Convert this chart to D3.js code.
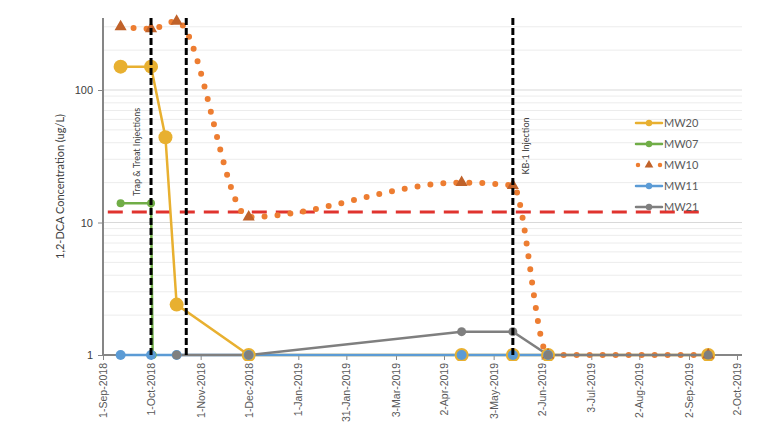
<!DOCTYPE html>
<html>
<head>
<meta charset="utf-8">
<script src="https://cdn.jsdelivr.net/npm/d3@7"></script>
<style>
  body { margin: 0; background: #fff; }
  svg { display: block; font-family: Lato, "Open Sans", sans-serif; }
</style>
</head>
<body>
<div id="chart"></div>
<script>
const parse = d3.timeParse("%Y-%m-%d");

// sampling data (ug/L)
const mw20Dates = ["2018-09-12", "2018-10-01", "2018-10-10", "2018-10-17", "2018-12-01", "2019-04-13", "2019-05-15", "2019-06-06", "2019-09-14"];
const mw20Values = [150, 150, 44, 2.4, 1, 1, 1, 1, 1];
const mw07Dates = ["2018-09-12", "2018-10-01", "2018-10-02"];
const mw07Values = [14, 14, 1];
const mw10Dates = ["2018-09-12", "2018-10-01", "2018-10-17", "2018-12-01", "2019-04-13", "2019-05-15", "2019-06-06", "2019-09-14"];
const mw10Values = [300, 290, 330, 11, 20, 19, 1, 1];
const mw11Dates = ["2018-09-12", "2018-10-01", "2018-10-17", "2018-12-01", "2019-04-13", "2019-05-15", "2019-06-06"];
const mw11Values = [1, 1, 1, 1, 1, 1, 1];
const mw21Dates = ["2018-10-17", "2018-12-01", "2019-04-13", "2019-05-15", "2019-06-06", "2019-09-14"];
const mw21Values = [1, 1, 1.5, 1.5, 1, 1];

// screening level (red dashed)
const limitDates = ["2018-09-04", "2019-09-12"];
const limitValue = 12;

// injection events (black dashed)
const eventDates = ["2018-10-01", "2018-10-23", "2019-05-15"];
const eventLabels = [
  { date: "2018-09-22", text: "Trap & Treat Injections" },
  { date: "2019-05-23", text: "KB-1 Injection" }
];

const xTickLabels = ["1-Sep-2018", "1-Oct-2018", "1-Nov-2018", "1-Dec-2018", "1-Jan-2019", "31-Jan-2019", "3-Mar-2019", "2-Apr-2019", "3-May-2019", "2-Jun-2019", "3-Jul-2019", "2-Aug-2019", "2-Sep-2019", "2-Oct-2019"];
const yTicks = [1, 10, 100];

const seriesNames = ["MW20", "MW07", "MW10", "MW11", "MW21"];
const seriesColors = ["#E8B030", "#70AD47", "#ED7D31", "#5B9BD5", "#7F7F7F"];

const toPoints = (dates, values) => dates.map((d, i) => ({ date: parse(d), value: values[i] }));
const series = [
  { name: "MW20", pts: toPoints(mw20Dates, mw20Values), marker: "circle", r: 7 },
  { name: "MW07", pts: toPoints(mw07Dates, mw07Values), marker: "circle", r: 4 },
  { name: "MW10", pts: toPoints(mw10Dates, mw10Values), marker: "triangle", r: 7, dotted: true },
  { name: "MW11", pts: toPoints(mw11Dates, mw11Values), marker: "circle", r: 5 },
  { name: "MW21", pts: toPoints(mw21Dates, mw21Values), marker: "circle", r: 4.5 }
];
const color = d3.scaleOrdinal().domain(seriesNames).range(seriesColors);

const width = 766, height = 442;
const plotLeft = 103, plotRight = 742, plotTop = 18, plotBottom = 355;

const x = d3.scaleTime()
  .domain([parse("2018-09-01"), parse("2019-10-02")])
  .range([plotLeft, 737]);
const y = d3.scaleLog()
  .domain([1, 1000])
  .range([plotBottom, plotBottom - 3 * 132.5]);

const svg = d3.select("#chart").append("svg")
  .attr("width", width).attr("height", height);

svg.append("clipPath").attr("id", "plot-clip")
  .append("rect")
  .attr("x", plotLeft).attr("y", plotTop - 6)
  .attr("width", plotRight - plotLeft).attr("height", plotBottom - plotTop + 12);

// gridlines
const gridVals = [];
for (const base of [1, 10, 100]) {
  for (let k = 1; k <= 9; k++) {
    const v = base * k;
    if (v > 1 && y(v) >= plotTop) gridVals.push(v);
  }
}
svg.append("g").selectAll("line")
  .data(gridVals)
  .join("line")
  .attr("x1", plotLeft).attr("x2", plotRight)
  .attr("y1", d => y(d)).attr("y2", d => y(d))
  .attr("stroke", d => (d === 10 || d === 100) ? "#D9D9D9" : "#ECECEC")
  .attr("stroke-width", 1);

// x axis
const xTickDates = xTickLabels.map(d3.timeParse("%-d-%b-%Y"));
const xAxis = svg.append("g")
  .attr("transform", `translate(0,${plotBottom})`)
  .call(d3.axisBottom(x).tickValues(xTickDates).tickSize(5).tickSizeOuter(0)
    .tickFormat((d, i) => xTickLabels[i]));
xAxis.select(".domain").remove();
xAxis.selectAll(".tick line").attr("stroke", "#868686");
xAxis.selectAll(".tick text")
  .attr("transform", "rotate(-90)")
  .attr("text-anchor", "end")
  .attr("x", -8).attr("y", 0).attr("dy", "0.32em")
  .attr("fill", "#595959")
  .style("font-size", "10.5px");
svg.append("line")
  .attr("x1", plotLeft).attr("x2", plotRight)
  .attr("y1", plotBottom).attr("y2", plotBottom)
  .attr("stroke", "#868686").attr("stroke-width", 2);

// y axis
const yAxis = svg.append("g")
  .attr("transform", `translate(${plotLeft},0)`)
  .call(d3.axisLeft(y).tickValues(yTicks).tickSize(5).tickSizeOuter(0).tickFormat(d3.format("d")));
yAxis.select(".domain").remove();
yAxis.selectAll(".tick line").attr("stroke", "#868686");
yAxis.selectAll(".tick text").attr("fill", "#404040").style("font-size", "11px").attr("x", -10);
svg.append("line")
  .attr("x1", plotLeft).attr("x2", plotLeft)
  .attr("y1", plotTop).attr("y2", plotBottom)
  .attr("stroke", "#868686").attr("stroke-width", 2);

svg.append("text")
  .attr("transform", `translate(64,${(plotTop + plotBottom) / 2}) rotate(-90)`)
  .attr("text-anchor", "middle")
  .attr("fill", "#404040")
  .style("font-size", "11px")
  .text("1,2-DCA Concentration (ug/L)");

// screening level
svg.append("line")
  .attr("x1", x(parse(limitDates[0]))).attr("x2", x(parse(limitDates[1])))
  .attr("y1", y(limitValue)).attr("y2", y(limitValue))
  .attr("stroke", "#E0332E").attr("stroke-width", 3)
  .attr("stroke-dasharray", "15 9");

// series lines
const plot = svg.append("g").attr("clip-path", "url(#plot-clip)");
series.forEach(s => {
  const line = d3.line()
    .x(d => x(d.date)).y(d => y(d.value))
    .curve(s.dotted ? d3.curveMonotoneX : d3.curveLinear);
  plot.append("path")
    .datum(s.pts)
    .attr("d", line)
    .attr("fill", "none")
    .attr("stroke", color(s.name))
    .attr("stroke-width", s.dotted ? 6 : 2.5)
    .attr("stroke-linecap", "round")
    .attr("stroke-dasharray", s.dotted ? "0 13" : null);
});

// markers
const markerPath = (type, r) => {
  if (type === "triangle") return d3.symbol(d3.symbolTriangle, r * r * 1.3)();
  if (type === "diamond") return d3.symbol(d3.symbolDiamond, r * r * 1.2)();
  return d3.symbol(d3.symbolCircle, Math.PI * r * r)();
};
series.forEach(s => {
  const fill = s.name === "MW10" ? "#C0622A" : color(s.name);
  plot.append("g").selectAll("path")
    .data(s.pts)
    .join("path")
    .attr("transform", d => `translate(${x(d.date)},${y(d.value)})`)
    .attr("d", markerPath(s.marker, s.r))
    .attr("fill", fill);
});

// event lines
svg.append("g").selectAll("line")
  .data(eventDates)
  .join("line")
  .attr("x1", d => x(parse(d))).attr("x2", d => x(parse(d)))
  .attr("y1", plotTop).attr("y2", plotBottom)
  .attr("stroke", "#000").attr("stroke-width", 3)
  .attr("stroke-dasharray", "7 3");

svg.append("g").selectAll("text")
  .data(eventLabels)
  .join("text")
  .attr("transform", (d, i) => `translate(${x(parse(d.date))},${i === 0 ? 152 : 146}) rotate(-90)`)
  .attr("text-anchor", "middle")
  .attr("dy", "0.32em")
  .attr("fill", "#404040")
  .style("font-size", "9px")
  .text(d => d.text);

// legend
const legend = svg.append("g").attr("transform", "translate(636,123)");
series.forEach((s, i) => {
  const g = legend.append("g").attr("transform", `translate(0,${i * 21})`);
  g.append("line")
    .attr("x1", 0).attr("x2", 26)
    .attr("stroke", color(s.name))
    .attr("stroke-width", s.dotted ? 4.5 : 2.5)
    .attr("stroke-linecap", "round")
    .attr("stroke-dasharray", s.dotted ? "0 11" : null)
    .attr("transform", s.dotted ? "translate(2,0)" : null);
  g.append("path")
    .attr("transform", "translate(13,0)")
    .attr("d", markerPath(s.marker, s.dotted ? 5 : 3.2))
    .attr("fill", s.name === "MW10" ? "#C0622A" : color(s.name));
  g.append("text")
    .attr("x", 28).attr("dy", "0.35em")
    .attr("fill", "#595959")
    .style("font-size", "11px")
    .text(s.name);
});
</script>
</body>
</html>
